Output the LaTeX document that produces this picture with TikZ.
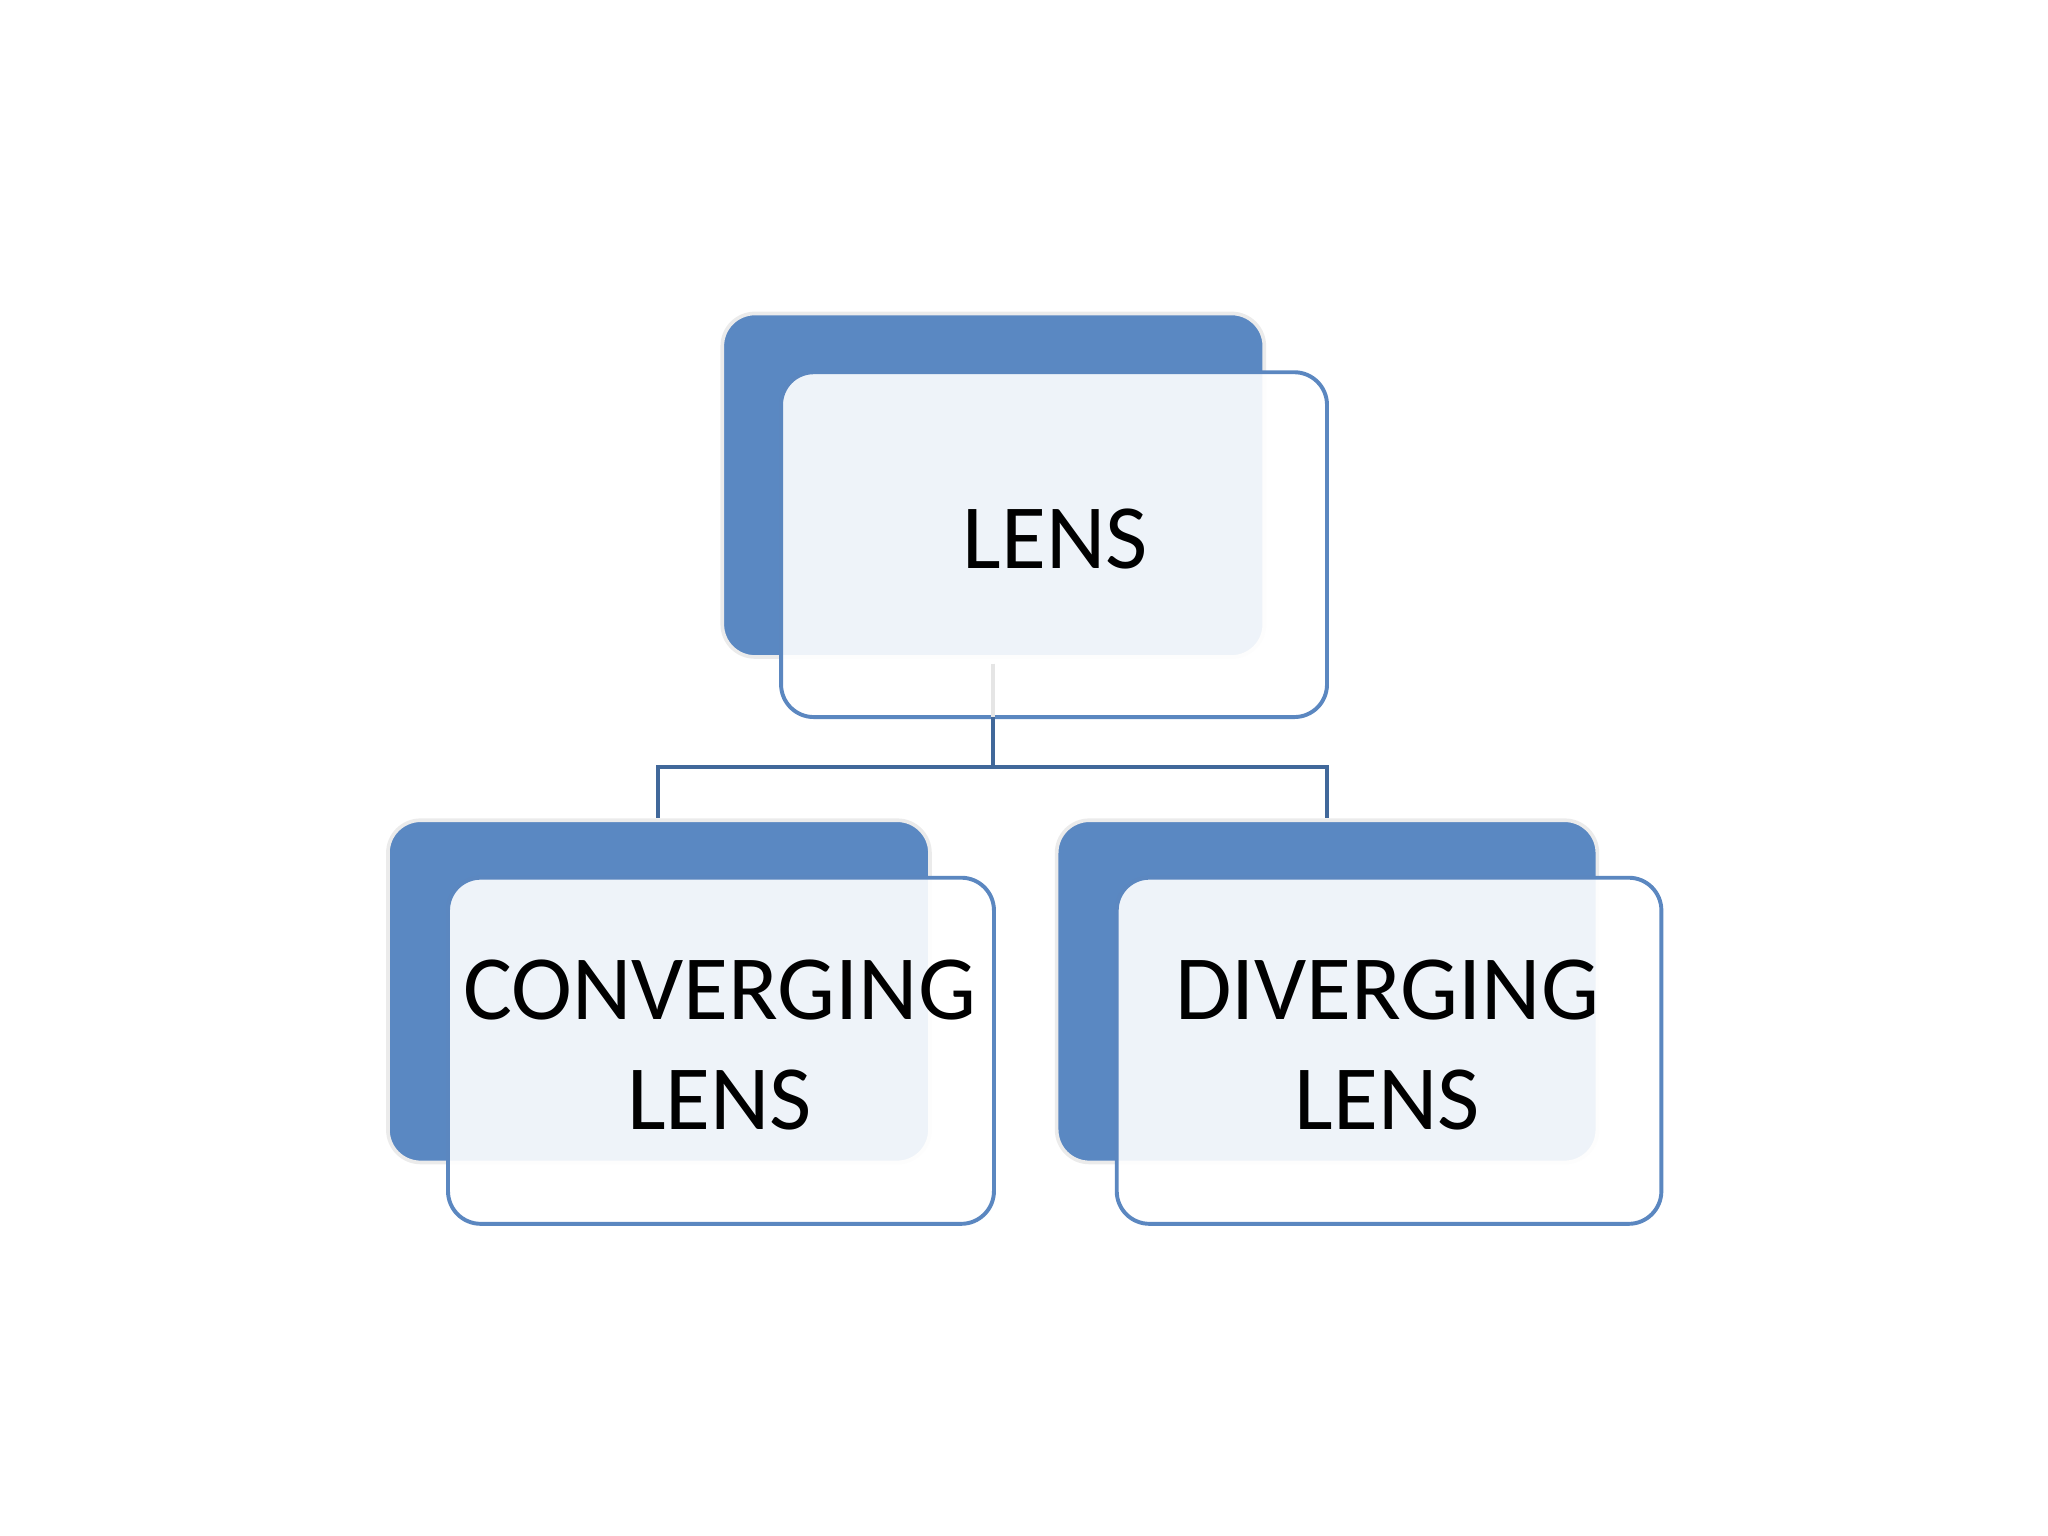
\documentclass[tikz,border=0pt]{standalone}
\usepackage{fontspec}
\setmainfont{Carlito}
\definecolor{bk}{HTML}{5A88C2}
\definecolor{bd}{HTML}{5B87C0}
\definecolor{cn}{HTML}{41689A}
\begin{document}
\begin{tikzpicture}[x=0.01cm,y=-0.01cm,
  backbox/.style={fill=bk,draw=black!8,line width=0.8pt,rounded corners=0.25cm},
  frontbox/.style={fill=white,fill opacity=0.9,draw=bd,draw opacity=1,line width=0.03cm,rounded corners=0.25cm},
  lbl/.style={font=\fontsize{20pt}{24pt}\selectfont,align=center,text=black},
  conn/.style={draw=cn,line width=0.03cm}]
\useasboundingbox (0,0) rectangle (1568,1176);
\draw[backbox] (553,240) rectangle (968,503);
\draw[frontbox] (598,285) rectangle (1016,549);
\node[lbl] (top) at (808,413) {LENS};
\draw[backbox] (297,628) rectangle (712,890);
\draw[frontbox] (343,672) rectangle (761,937);
\node[lbl] (left) at (551,800) {CONVERGING\\LENS};
\draw[backbox] (809,628) rectangle (1223,890);
\draw[frontbox] (855,672) rectangle (1272,937);
\node[lbl] (right) at (1062,800) {DIVERGING\\LENS};
\coordinate (tb) at (760,549);
\coordinate (lt) at (504,626);
\coordinate (rt) at (1016,626);
\draw[draw=black!10,line width=0.03cm] (760,508) -- (tb);
\draw[conn] (tb) -- (760,587) -| (lt);
\draw[conn] (760,587) -| (rt);
\end{tikzpicture}
\end{document}
